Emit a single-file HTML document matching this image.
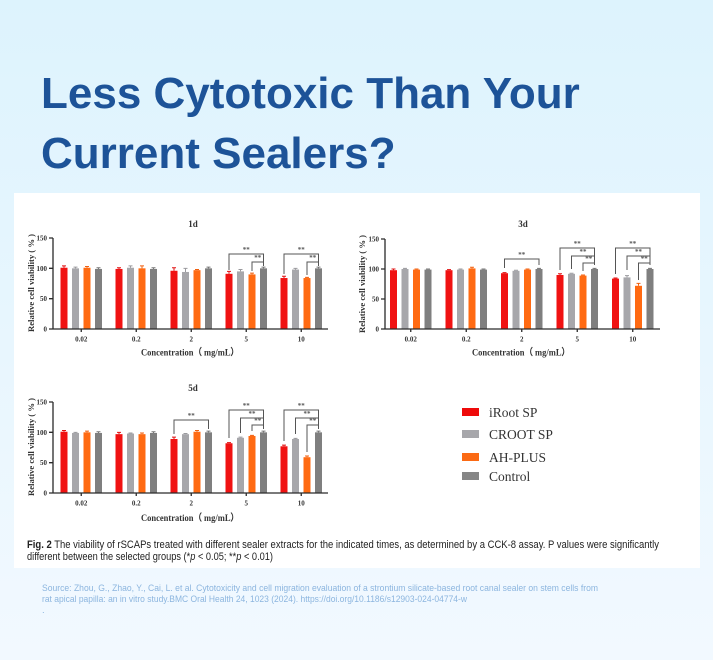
<!DOCTYPE html>
<html>
<head>
<meta charset="utf-8">
<style>
  html,body{margin:0;padding:0;}
  body{width:713px;height:660px;overflow:hidden;}
  svg{display:block;}
  .ax{stroke:#2a2a2a;stroke-width:1.3;fill:none;}
  .br{stroke:#555;stroke-width:1;fill:none;}
  .t{font-family:"Liberation Serif",serif;font-weight:bold;fill:#333;}
  .st{font-family:"Liberation Serif",serif;font-weight:bold;fill:#555;font-size:7px;text-anchor:middle;}
  .eb{fill:none;stroke-width:1;}
</style>
</head>
<body>
<svg width="713" height="660" viewBox="0 0 713 660" xmlns="http://www.w3.org/2000/svg">
  <defs>
    <linearGradient id="bg" x1="0" y1="0" x2="0" y2="1">
      <stop offset="0" stop-color="#ddf3fd"/>
      <stop offset="1" stop-color="#f2f9ff"/>
    </linearGradient>
  </defs>
  <rect x="0" y="0" width="713" height="660" fill="url(#bg)"/>

  <!-- Title -->
  <text x="41" y="108" font-family="'Liberation Sans',sans-serif" font-weight="bold" font-size="44" fill="#1d5398">Less Cytotoxic Than Your</text>
  <text x="41" y="168" font-family="'Liberation Sans',sans-serif" font-weight="bold" font-size="44" fill="#1d5398">Current Sealers?</text>

  <!-- White panel -->
  <rect x="14" y="193" width="686" height="375" fill="#ffffff"/>

  <!-- ================= 1d ================= -->
  <text class="t" x="193" y="227" font-size="9" text-anchor="middle">1d</text>
  <text class="t" font-size="8.5" text-anchor="middle" transform="translate(34,283) rotate(-90)" textLength="98" lengthAdjust="spacingAndGlyphs">Relative cell viability ( % )</text>
  <g class="t" font-size="7" text-anchor="end">
    <text x="47" y="240.5">150</text>
    <text x="47" y="270.8">100</text>
    <text x="47" y="301.2">50</text>
    <text x="47" y="331.5">0</text>
  </g>
  <g class="t" font-size="7" text-anchor="middle">
    <text x="81.25" y="341.5">0.02</text>
    <text x="136.25" y="341.5">0.2</text>
    <text x="191.25" y="341.5">2</text>
    <text x="246.25" y="341.5">5</text>
    <text x="301.25" y="341.5">10</text>
  </g>
  <text class="t" x="190" y="355.5" font-size="9.5" text-anchor="middle" textLength="98" lengthAdjust="spacingAndGlyphs">Concentration（ mg/mL）</text>
  <g transform="translate(0,329) scale(1,-0.60667)">
    <g fill="#f01212">
      <rect x="60.5" y="0" width="7" height="101"/><rect x="115.5" y="0" width="7" height="99"/><rect x="170.5" y="0" width="7" height="96"/><rect x="225.5" y="0" width="7" height="91"/><rect x="280.5" y="0" width="7" height="84"/>
    </g>
    <g fill="#a7a7ab">
      <rect x="72" y="0" width="7" height="100"/><rect x="127" y="0" width="7" height="101"/><rect x="182" y="0" width="7" height="94"/><rect x="237" y="0" width="7" height="95"/><rect x="292" y="0" width="7" height="98"/>
    </g>
    <g fill="#ff6a12">
      <rect x="83.5" y="0" width="7" height="101"/><rect x="138.5" y="0" width="7" height="100"/><rect x="193.5" y="0" width="7" height="97"/><rect x="248.5" y="0" width="7" height="90"/><rect x="303.5" y="0" width="7" height="84"/>
    </g>
    <g fill="#7f7f7f">
      <rect x="95" y="0" width="7" height="99"/><rect x="150" y="0" width="7" height="99"/><rect x="205" y="0" width="7" height="100"/><rect x="260" y="0" width="7" height="100"/><rect x="315" y="0" width="7" height="100"/>
    </g>
    <path class="eb" vector-effect="non-scaling-stroke" stroke="#e01010" d="M64 101V104M62 104H66 M119 99V101M117 101H121 M174 96V101M172 101H176 M229 91V95M227 95H231 M284 84V87M282 87H286"/>
    <path class="eb" vector-effect="non-scaling-stroke" stroke="#9a9a9e" d="M75.5 100V102M73.5 102H77.5 M130.5 101V104M128.5 104H132.5 M185.5 94V100M183.5 100H187.5 M240.5 95V98M238.5 98H242.5 M295.5 98V100M293.5 100H297.5"/>
    <path class="eb" vector-effect="non-scaling-stroke" stroke="#f06010" d="M87 101V103M85 103H89 M142 100V104M140 104H144 M197 97V98M195 98H199 M252 90V92M250 92H254 M307 84V85M305 85H309"/>
    <path class="eb" vector-effect="non-scaling-stroke" stroke="#777" d="M98.5 99V101M96.5 101H100.5 M153.5 99V101M151.5 101H155.5 M208.5 100V102M206.5 102H210.5 M263.5 100V102M261.5 102H265.5 M318.5 100V102M316.5 102H320.5"/>
  </g>
  <path class="ax" d="M53 238V329H328 M49 238H53 M49 268.3H53 M49 298.7H53 M49 329H53 M81.25 329V332 M136.25 329V332 M191.25 329V332 M246.25 329V332 M301.25 329V332"/>
  <path class="br" d="M229 270V254H263.5V266 M252 271V262H263.5 M284 274V254H318.5V266 M307 275V262H318.5"/>
  <text class="st" x="246.3" y="252">**</text><text class="st" x="257.8" y="260">**</text>
  <text class="st" x="301.3" y="252">**</text><text class="st" x="312.8" y="260">**</text>

  <!-- ================= 3d ================= -->
  <text class="t" x="523" y="227" font-size="9" text-anchor="middle">3d</text>
  <text class="t" font-size="8.5" text-anchor="middle" transform="translate(365,284) rotate(-90)" textLength="98" lengthAdjust="spacingAndGlyphs">Relative cell viability ( % )</text>
  <g class="t" font-size="7" text-anchor="end">
    <text x="379" y="241.5">150</text>
    <text x="379" y="271.5">100</text>
    <text x="379" y="301.5">50</text>
    <text x="379" y="331.5">0</text>
  </g>
  <g class="t" font-size="7" text-anchor="middle">
    <text x="410.75" y="341.5">0.02</text>
    <text x="466.25" y="341.5">0.2</text>
    <text x="521.75" y="341.5">2</text>
    <text x="577.25" y="341.5">5</text>
    <text x="632.75" y="341.5">10</text>
  </g>
  <text class="t" x="521" y="355.5" font-size="9.5" text-anchor="middle" textLength="98" lengthAdjust="spacingAndGlyphs">Concentration（ mg/mL）</text>
  <g transform="translate(0,329) scale(1,-0.6)">
    <g fill="#f01212">
      <rect x="390" y="0" width="7" height="98"/><rect x="445.5" y="0" width="7" height="98"/><rect x="501" y="0" width="7" height="93"/><rect x="556.5" y="0" width="7" height="90"/><rect x="612" y="0" width="7" height="84"/>
    </g>
    <g fill="#a7a7ab">
      <rect x="401.5" y="0" width="7" height="100"/><rect x="457" y="0" width="7" height="99"/><rect x="512.5" y="0" width="7" height="97"/><rect x="568" y="0" width="7" height="92"/><rect x="623.5" y="0" width="7" height="86"/>
    </g>
    <g fill="#ff6a12">
      <rect x="413" y="0" width="7" height="99"/><rect x="468.5" y="0" width="7" height="101"/><rect x="524" y="0" width="7" height="99"/><rect x="579.5" y="0" width="7" height="89"/><rect x="635" y="0" width="7" height="72"/>
    </g>
    <g fill="#7f7f7f">
      <rect x="424.5" y="0" width="7" height="99"/><rect x="480" y="0" width="7" height="99"/><rect x="535.5" y="0" width="7" height="100"/><rect x="591" y="0" width="7" height="100"/><rect x="646.5" y="0" width="7" height="100"/>
    </g>
    <path class="eb" vector-effect="non-scaling-stroke" stroke="#e01010" d="M393.5 98V100M391.5 100H395.5 M449 98V99M447 99H451 M504.5 93V94M502.5 94H506.5 M560 90V92M558 92H562 M615.5 84V85M613.5 85H617.5"/>
    <path class="eb" vector-effect="non-scaling-stroke" stroke="#9a9a9e" d="M405 100V101M403 101H407 M460.5 99V100M458.5 100H462.5 M516 97V98M514 98H518 M571.5 92V93M569.5 93H573.5 M627 86V89M625 89H629"/>
    <path class="eb" vector-effect="non-scaling-stroke" stroke="#f06010" d="M416.5 99V100M414.5 100H418.5 M472 101V103M470 103H474 M527.5 99V100M525.5 100H529.5 M583 89V90M581 90H585 M638.5 72V76M636.5 76H640.5"/>
    <path class="eb" vector-effect="non-scaling-stroke" stroke="#777" d="M428 99V100M426 100H430 M483.5 99V100M481.5 100H485.5 M539 100V101M537 101H541 M594.5 100V101M592.5 101H596.5 M650 100V101M648 101H652"/>
  </g>
  <path class="ax" d="M385 239V329H660 M381 239H385 M381 269H385 M381 299H385 M381 329H385 M410.75 329V332 M466.25 329V332 M521.75 329V332 M577.25 329V332 M632.75 329V332"/>
  <path class="br" d="M504.5 268V259H539V265 M560 270V248H594.5V265 M571.5 269V256H594.5 M583 271V263H594.5 M615.5 274V248H650V265 M627 270V256H650 M638.5 280V263H650"/>
  <text class="st" x="521.8" y="257">**</text>
  <text class="st" x="577.3" y="246">**</text><text class="st" x="583" y="254">**</text><text class="st" x="588.8" y="261">**</text>
  <text class="st" x="632.8" y="246">**</text><text class="st" x="638.5" y="254">**</text><text class="st" x="644.3" y="261">**</text>

  <!-- ================= 5d ================= -->
  <text class="t" x="193" y="391" font-size="9" text-anchor="middle">5d</text>
  <text class="t" font-size="8.5" text-anchor="middle" transform="translate(34,447) rotate(-90)" textLength="98" lengthAdjust="spacingAndGlyphs">Relative cell viability ( % )</text>
  <g class="t" font-size="7" text-anchor="end">
    <text x="47" y="404.5">150</text>
    <text x="47" y="434.8">100</text>
    <text x="47" y="465.2">50</text>
    <text x="47" y="495.5">0</text>
  </g>
  <g class="t" font-size="7" text-anchor="middle">
    <text x="81.25" y="505.5">0.02</text>
    <text x="136.25" y="505.5">0.2</text>
    <text x="191.25" y="505.5">2</text>
    <text x="246.25" y="505.5">5</text>
    <text x="301.25" y="505.5">10</text>
  </g>
  <text class="t" x="190" y="521" font-size="9.5" text-anchor="middle" textLength="98" lengthAdjust="spacingAndGlyphs">Concentration（ mg/mL）</text>
  <g transform="translate(0,493) scale(1,-0.60667)">
    <g fill="#f01212">
      <rect x="60.5" y="0" width="7" height="101"/><rect x="115.5" y="0" width="7" height="97"/><rect x="170.5" y="0" width="7" height="89"/><rect x="225.5" y="0" width="7" height="82"/><rect x="280.5" y="0" width="7" height="77"/>
    </g>
    <g fill="#a7a7ab">
      <rect x="72" y="0" width="7" height="99"/><rect x="127" y="0" width="7" height="98"/><rect x="182" y="0" width="7" height="97"/><rect x="237" y="0" width="7" height="91"/><rect x="292" y="0" width="7" height="89"/>
    </g>
    <g fill="#ff6a12">
      <rect x="83.5" y="0" width="7" height="100"/><rect x="138.5" y="0" width="7" height="97"/><rect x="193.5" y="0" width="7" height="101"/><rect x="248.5" y="0" width="7" height="94"/><rect x="303.5" y="0" width="7" height="59"/>
    </g>
    <g fill="#7f7f7f">
      <rect x="95" y="0" width="7" height="99"/><rect x="150" y="0" width="7" height="99"/><rect x="205" y="0" width="7" height="100"/><rect x="260" y="0" width="7" height="100"/><rect x="315" y="0" width="7" height="100"/>
    </g>
    <path class="eb" vector-effect="non-scaling-stroke" stroke="#e01010" d="M64 101V103M62 103H66 M119 97V100M117 100H121 M174 89V92M172 92H176 M229 82V83M227 83H231 M284 77V79M282 79H286"/>
    <path class="eb" vector-effect="non-scaling-stroke" stroke="#9a9a9e" d="M75.5 99V100M73.5 100H77.5 M130.5 98V99M128.5 99H132.5 M185.5 97V98M183.5 98H187.5 M240.5 91V92M238.5 92H242.5 M295.5 89V90M293.5 90H297.5"/>
    <path class="eb" vector-effect="non-scaling-stroke" stroke="#f06010" d="M87 100V102M85 102H89 M142 97V99M140 99H144 M197 101V103M195 103H199 M252 94V95M250 95H254 M307 59V61M305 61H309"/>
    <path class="eb" vector-effect="non-scaling-stroke" stroke="#777" d="M98.5 99V101M96.5 101H100.5 M153.5 99V101M151.5 101H155.5 M208.5 100V102M206.5 102H210.5 M263.5 100V102M261.5 102H265.5 M318.5 100V102M316.5 102H320.5"/>
  </g>
  <path class="ax" d="M53 402V493H328 M49 402H53 M49 432.3H53 M49 462.7H53 M49 493H53 M81.25 493V496 M136.25 493V496 M191.25 493V496 M246.25 493V496 M301.25 493V496"/>
  <path class="br" d="M174 434V420H208.5V429 M229 438V410H263.5V429 M240.5 433V418H263.5 M252 431V425H263.5 M284 441V410H318.5V429 M295.5 434V418H318.5 M307 452V425H318.5"/>
  <text class="st" x="191.3" y="418">**</text>
  <text class="st" x="246.3" y="408">**</text><text class="st" x="252" y="416">**</text><text class="st" x="257.8" y="423">**</text>
  <text class="st" x="301.3" y="408">**</text><text class="st" x="307" y="416">**</text><text class="st" x="312.8" y="423">**</text>

  <!-- Legend -->
  <rect x="462" y="408" width="17" height="8" fill="#ee0a0a"/>
  <rect x="462" y="430" width="17" height="8" fill="#a7a7ab"/>
  <rect x="462" y="453" width="17" height="8" fill="#fb6a14"/>
  <rect x="462" y="472" width="17" height="8" fill="#868686"/>
  <g font-family="'Liberation Serif',serif" font-size="13.5" fill="#333">
    <text x="489" y="417">iRoot SP</text>
    <text x="489" y="439">CROOT SP</text>
    <text x="489" y="462">AH-PLUS</text>
    <text x="489" y="481">Control</text>
  </g>

  <!-- Caption -->
  <text x="27" y="548" font-family="'Liberation Sans',sans-serif" font-size="11" fill="#222" textLength="632" lengthAdjust="spacingAndGlyphs"><tspan font-weight="bold">Fig. 2</tspan>  The viability of rSCAPs treated with different sealer extracts for the indicated times, as determined by a CCK-8 assay. P values were significantly</text>
  <text x="27" y="560" font-family="'Liberation Sans',sans-serif" font-size="11" fill="#222" textLength="246" lengthAdjust="spacingAndGlyphs">different between the selected groups (*<tspan font-style="italic">p</tspan> &lt; 0.05; **<tspan font-style="italic">p</tspan> &lt; 0.01)</text>

  <!-- Source -->
  <g font-family="'Liberation Sans',sans-serif" font-size="9.5" fill="#8cb5df">
    <text x="42" y="591" textLength="556" lengthAdjust="spacingAndGlyphs">Source: Zhou, G., Zhao, Y., Cai, L. et al. Cytotoxicity and cell migration evaluation of a strontium silicate-based root canal sealer on stem cells from</text>
    <text x="42" y="602" textLength="425" lengthAdjust="spacingAndGlyphs">rat apical papilla: an in vitro study.BMC Oral Health 24, 1023 (2024). https://doi.org/10.1186/s12903-024-04774-w</text>
    <text x="42" y="613">.</text>
  </g>
</svg>
</body>
</html>
